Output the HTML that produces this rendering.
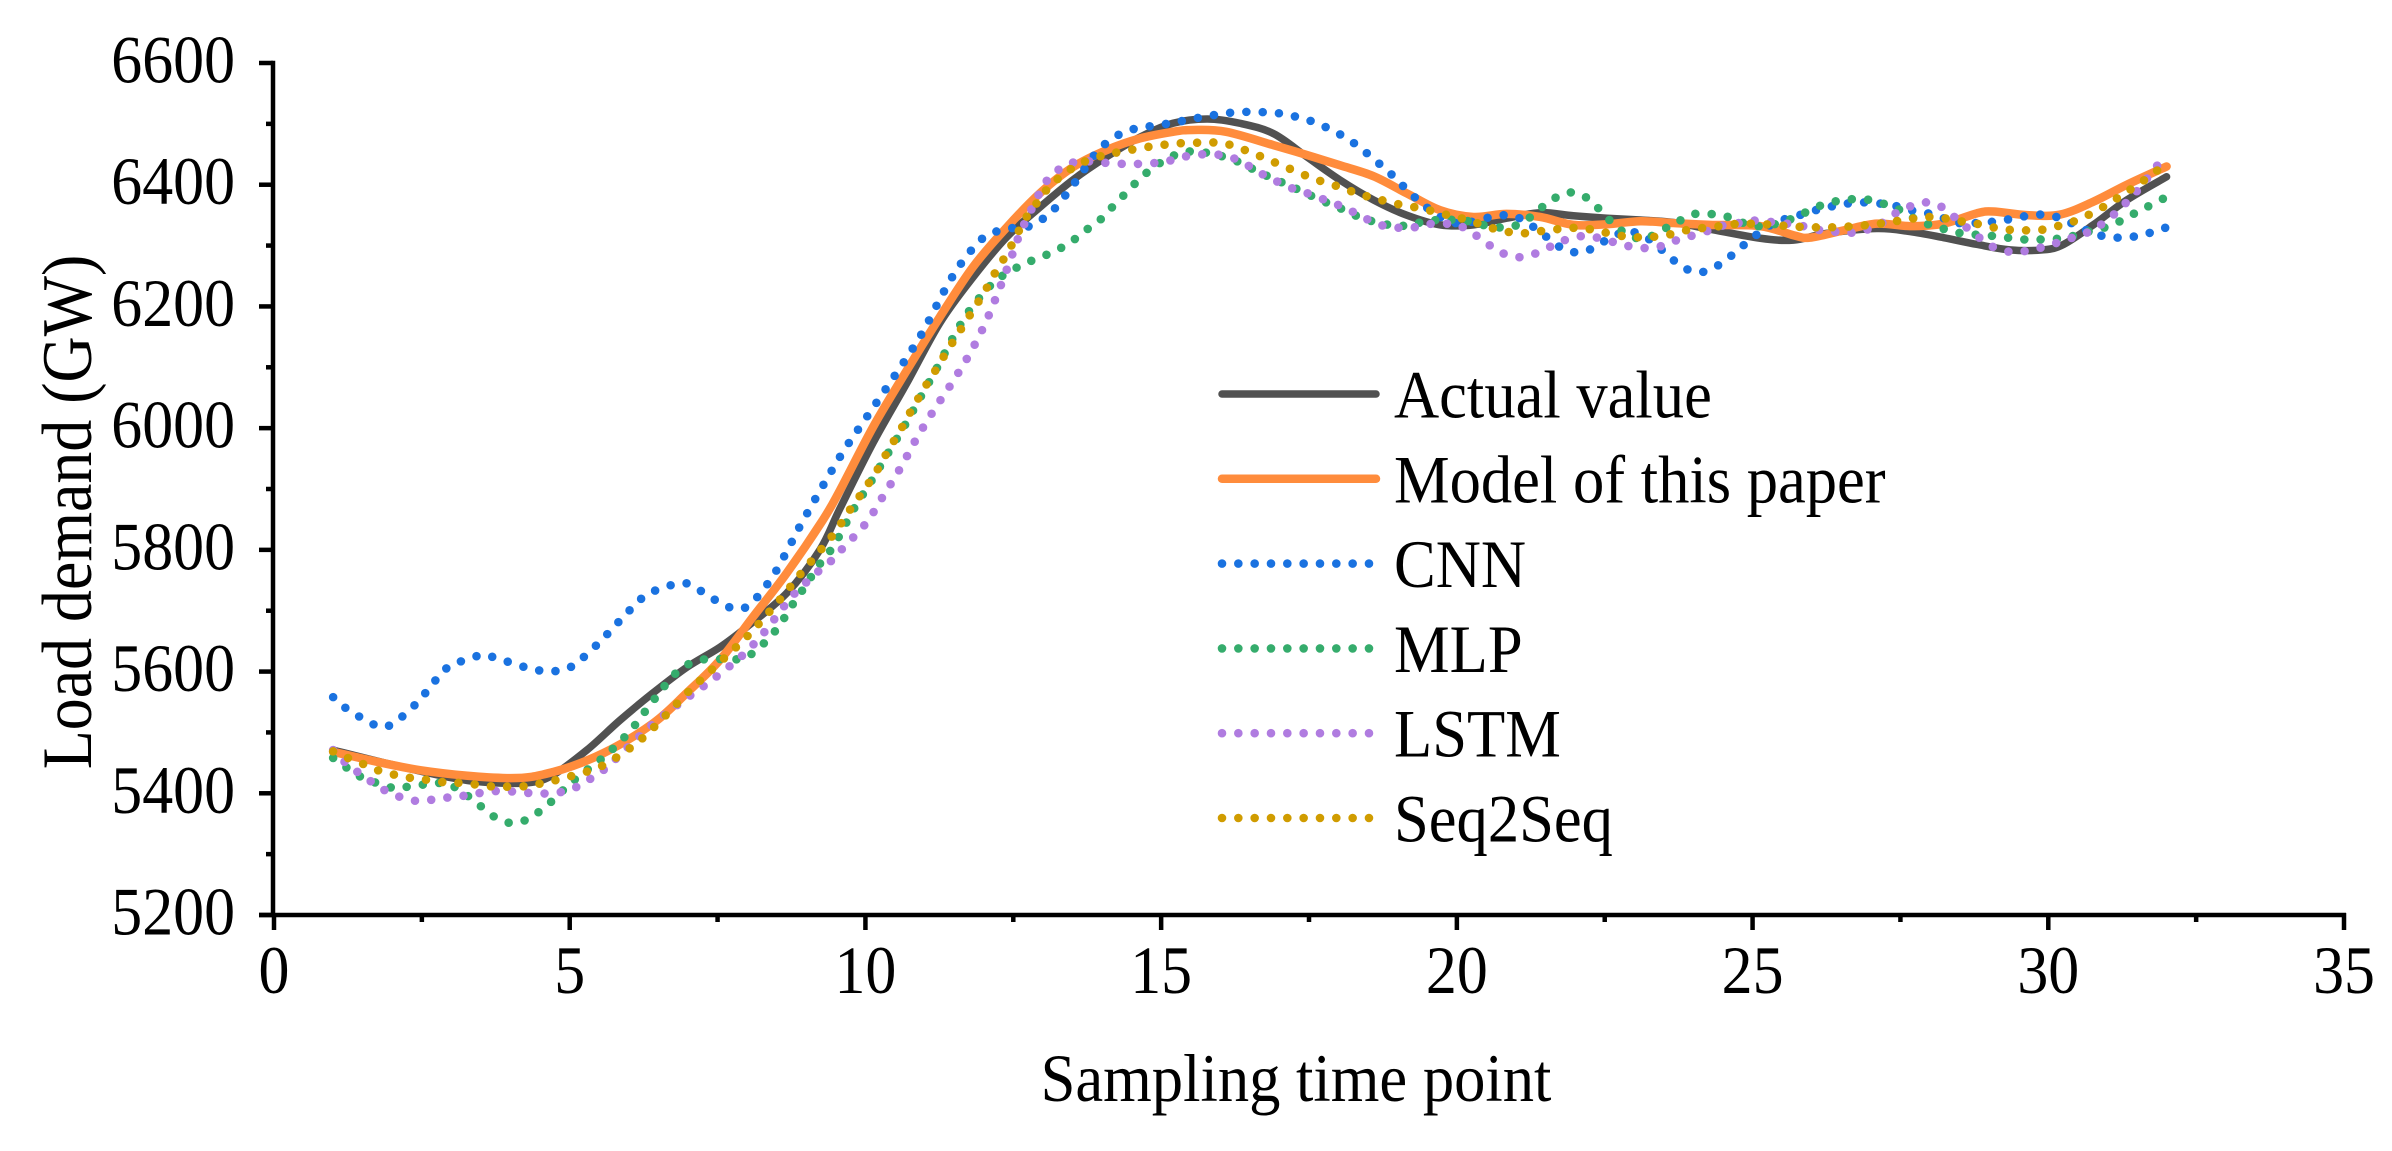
<!DOCTYPE html>
<html><head><meta charset="utf-8"><style>
html,body{margin:0;padding:0;background:#fff;}
svg{display:block;}
text{font-family:"Liberation Serif","Times New Roman",serif;fill:#000;}
</style></head><body>
<svg id="s" width="2392" height="1151" viewBox="0 0 2392 1151" xmlns="http://www.w3.org/2000/svg">
<rect width="2392" height="1151" fill="#fff"/>
<g id="axes" stroke="#000" stroke-width="4.5" fill="none"></g>
<g id="labels" font-size="68"></g>
<g id="curves" fill="none"></g>
<g id="legend"></g>
<text font-size="68" text-anchor="middle" transform="translate(1296,1101) scale(0.92,1)">Sampling time point</text>
<text font-size="71" text-anchor="middle" transform="translate(91,512) rotate(-90) scale(0.9,1)">Load demand (GW)</text>
</svg>
<script>
var NS="http://www.w3.org/2000/svg";
function X(x){return 274+x*59.143;}
function Y(v){return 915-(v-5200)*0.60857;}
function el(tag,attrs,parent,txt){var e=document.createElementNS(NS,tag);for(var k in attrs)e.setAttribute(k,attrs[k]);if(txt!==undefined)e.textContent=txt;parent.appendChild(e);return e;}
var axes=document.getElementById('axes'),labels=document.getElementById('labels'),curves=document.getElementById('curves'),legend=document.getElementById('legend');
el('line',{x1:273,y1:60.8,x2:273,y2:917},axes);
el('line',{x1:259,y1:915,x2:2346,y2:915},axes);
for(var v=5200;v<=6600;v+=100){var y=Y(v);var major=(v%200===0);
 el('line',{x1:major?259:266,y1:y,x2:273,y2:y},axes);
 if(major){el('text',{'text-anchor':'end',transform:'translate(235,'+(y+19.5)+') scale(0.91,1)'},labels,String(v));}
}
for(var x=0;x<=35;x+=2.5){var px=X(x);var major=(x%5===0);
 el('line',{x1:px,y1:913,x2:px,y2:major?930:922},axes);
 if(major){el('text',{'text-anchor':'middle',transform:'translate('+px+',993) scale(0.91,1)'},labels,String(x));}
}
function pathD(pts){var P=pts.map(function(p){return [X(p[0]),Y(p[1])];});var d='M'+P[0][0].toFixed(2)+','+P[0][1].toFixed(2);
 for(var i=0;i<P.length-1;i++){var p0=P[i>0?i-1:i],p1=P[i],p2=P[i+1],p3=P[i+2<P.length?i+2:i+1];
  var c1x=p1[0]+(p2[0]-p0[0])/6,c1y=p1[1]+(p2[1]-p0[1])/6,c2x=p2[0]-(p3[0]-p1[0])/6,c2y=p2[1]-(p3[1]-p1[1])/6;
  d+=' C'+c1x.toFixed(2)+','+c1y.toFixed(2)+' '+c2x.toFixed(2)+','+c2y.toFixed(2)+' '+p2[0].toFixed(2)+','+p2[1].toFixed(2);}
 return d;}
var actual=[[1,5471],[2,5447],[3.03,5425],[3.6,5418],[4.28,5417],[4.7,5429],[5.29,5471],[5.85,5520],[6.41,5565],[6.98,5607],[7.54,5640],[7.99,5673],[8.67,5729],[9.23,5800],[9.57,5868],[10.13,5976],[10.7,6074],[11.26,6173],[11.82,6248],[12.39,6314],[12.95,6363],[13.51,6408],[14.08,6446],[14.64,6478],[15.2,6501],[15.78,6508],[16.33,6501],[16.9,6484],[17.46,6446],[18.02,6408],[18.59,6375],[19.15,6350],[19.72,6334],[20.28,6334],[20.84,6345],[21.41,6354],[21.97,6349],[22.54,6345],[23.1,6342],[23.66,6338],[24.28,6327],[25.13,6312],[25.69,6309],[26.25,6320],[27.1,6328],[27.66,6323],[28.23,6313],[28.79,6302],[29.35,6293],[29.92,6293],[30.26,6302],[30.76,6334],[31.33,6375],[32,6413]];
var model=[[1,5468],[2.47,5438],[3.94,5425],[4.72,5435],[5.57,5466],[6.41,5515],[6.98,5565],[7.54,5619],[8.1,5690],[8.67,5762],[9.28,5849],[9.57,5898],[10.13,6002],[10.7,6095],[11.26,6183],[11.82,6265],[12.39,6330],[12.95,6386],[13.51,6429],[14.08,6457],[14.64,6476],[15.2,6487],[15.54,6490],[16.1,6487],[16.9,6465],[17.46,6449],[18.02,6432],[18.59,6414],[19.15,6386],[19.72,6358],[20.28,6347],[20.84,6352],[21.41,6347],[21.97,6334],[22.54,6335],[23.1,6340],[23.66,6337],[24.28,6334],[25.13,6332],[25.69,6317],[25.97,6313],[26.54,6325],[27.1,6336],[27.66,6332],[28.23,6336],[28.79,6353],[29.07,6356],[29.64,6350],[30.2,6351],[30.76,6372],[31.33,6400],[32,6430]];
var cnn=[[1,5558],[1.23,5539],[1.74,5511],[2.0,5514],[2.41,5548],[2.76,5589],[2.98,5609],[3.5,5627],[3.76,5622],[4.29,5606],[4.57,5601],[4.84,5602],[5.09,5612],[5.5,5648],[5.89,5688],[6.3,5726],[6.85,5745],[7.1,5739],[7.58,5711],[7.85,5703],[8.08,5713],[8.43,5756],[8.71,5805],[8.95,5849],[9.57,5953],[10.02,6018],[10.48,6084],[10.94,6153],[11.33,6225],[11.62,6271],[11.97,6311],[12.24,6324],[12.5,6329],[12.78,6332],[13.0,6344],[13.22,6363],[13.56,6406],[13.88,6450],[14.08,6469],[14.34,6485],[14.61,6493],[15.15,6501],[15.69,6511],[16.25,6519],[16.8,6519],[17.08,6516],[17.35,6510],[17.61,6502],[17.86,6491],[18.11,6478],[18.35,6462],[18.56,6445],[18.78,6427],[18.98,6409],[19.18,6389],[19.39,6371],[19.61,6354],[19.89,6339],[20.14,6337],[20.41,6343],[20.68,6349],[20.96,6349],[21.19,6337],[21.41,6323],[21.63,6305],[21.88,6291],[22.15,6290],[22.39,6301],[22.63,6315],[22.9,6323],[23.14,6317],[23.35,6303],[23.58,6283],[23.83,6264],[24.1,6256],[24.35,6264],[24.57,6278],[24.79,6296],[25.03,6315],[25.27,6332],[25.53,6343],[25.79,6350],[26.06,6358],[26.32,6364],[26.59,6369],[26.87,6371],[27.16,6369],[27.42,6365],[27.68,6358],[27.96,6353],[28.23,6345],[28.5,6337],[28.77,6337],[29.05,6339],[29.32,6343],[29.59,6348],[29.87,6351],[30.14,6347],[30.39,6337],[30.65,6325],[30.91,6316],[31.19,6313],[31.46,6315],[31.72,6321],[32,6330]];
var mlp=[[1,5458],[1.23,5442],[1.47,5427],[2.0,5409],[2.28,5411],[2.81,5417],[3.08,5409],[3.3,5394],[3.52,5377],[3.75,5360],[4.02,5351],[4.28,5357],[4.5,5371],[4.72,5389],[4.93,5409],[5.14,5427],[5.37,5444],[5.58,5460],[5.78,5478],[5.98,5498],[6.16,5519],[6.33,5542],[6.5,5563],[6.66,5583],[6.86,5603],[7.12,5617],[7.4,5621],[7.68,5620],[7.95,5622],[8.15,5635],[8.35,5653],[8.54,5675],[8.69,5698],[8.84,5721],[9.01,5744],[9.15,5767],[9.32,5788],[9.49,5811],[9.79,5865],[10.08,5910],[10.37,5957],[10.65,6002],[10.92,6049],[11.21,6099],[11.46,6145],[11.75,6192],[12.09,6232],[12.31,6250],[12.58,6265],[12.83,6276],[13.09,6286],[13.34,6298],[13.56,6312],[13.78,6329],[14.0,6345],[14.19,6365],[14.39,6385],[14.59,6405],[14.81,6424],[15.07,6441],[15.33,6452],[15.6,6455],[15.88,6450],[16.13,6444],[16.39,6434],[16.64,6421],[16.9,6410],[17.15,6399],[17.41,6388],[17.66,6376],[17.92,6366],[18.17,6355],[18.42,6344],[18.71,6337],[18.98,6332],[19.25,6335],[19.52,6341],[19.8,6342],[20.09,6342],[20.35,6336],[20.6,6331],[20.88,6330],[21.13,6339],[21.34,6355],[21.56,6372],[21.83,6386],[22.08,6385],[22.31,6369],[22.51,6349],[22.71,6330],[22.97,6314],[23.22,6313],[23.46,6325],[23.7,6337],[23.97,6351],[24.25,6352],[24.52,6349],[24.79,6339],[25.05,6332],[25.31,6334],[25.58,6341],[25.84,6352],[26.1,6364],[26.37,6372],[26.64,6376],[26.91,6376],[27.17,6370],[27.44,6361],[27.68,6347],[27.94,6336],[28.21,6328],[28.48,6321],[28.76,6318],[29.04,6316],[29.31,6313],[29.59,6310],[29.86,6310],[30.14,6311],[30.39,6315],[30.68,6323],[30.93,6329],[31.19,6339],[31.44,6352],[31.68,6364],[32,6380]];
var lstm=[[1,5471],[1.2,5451],[1.44,5433],[1.68,5417],[1.93,5402],[2.2,5392],[2.47,5387],[2.76,5391],[3.03,5394],[3.3,5397],[3.57,5402],[3.85,5404],[4.13,5402],[4.4,5400],[4.67,5400],[4.94,5404],[5.19,5414],[5.41,5428],[5.63,5443],[6.05,5482],[6.47,5519],[6.93,5553],[7.39,5585],[7.83,5619],[8.05,5639],[8.25,5660],[8.42,5681],[8.59,5703],[8.76,5724],[8.95,5742],[9.17,5762],[9.4,5780],[9.62,5803],[10.01,5844],[10.31,5890],[10.6,5936],[10.87,5984],[11.16,6030],[11.46,6074],[11.75,6120],[12.01,6169],[12.23,6220],[12.43,6271],[12.61,6319],[12.85,6368],[12.97,6391],[13.12,6413],[13.37,6431],[13.64,6439],[13.92,6437],[14.47,6434],[15.02,6437],[15.29,6444],[15.57,6449],[15.85,6450],[16.11,6447],[16.38,6437],[16.62,6422],[16.87,6410],[17.13,6397],[17.39,6389],[17.66,6379],[17.91,6370],[18.15,6360],[18.41,6347],[18.67,6335],[18.94,6330],[19.22,6329],[19.49,6335],[19.77,6336],[20.01,6334],[20.26,6321],[20.49,6305],[20.72,6290],[21.0,6281],[21.27,6285],[21.53,6296],[21.77,6307],[22.06,6315],[22.32,6314],[22.6,6307],[22.86,6300],[23.14,6296],[23.41,6298],[23.66,6307],[23.93,6315],[24.21,6323],[24.45,6332],[24.76,6337],[25.01,6341],[25.3,6339],[25.58,6336],[25.85,6332],[26.11,6326],[26.38,6323],[26.66,6321],[26.93,6326],[27.17,6336],[27.4,6352],[27.65,6364],[27.92,6371],[28.17,6365],[28.4,6348],[28.59,6332],[28.82,6314],[29.06,6298],[29.34,6290],[29.61,6291],[29.89,6297],[30.16,6305],[30.41,6313],[30.67,6322],[30.9,6335],[31.12,6352],[31.33,6372],[31.52,6392],[31.7,6414],[31.88,6436],[32,6448]];
var seq=[[1,5469],[1.25,5458],[1.51,5448],[1.78,5437],[2.06,5430],[2.33,5425],[2.6,5422],[2.89,5418],[3.16,5417],[3.45,5414],[3.73,5411],[3.99,5411],[4.28,5412],[4.55,5417],[4.82,5423],[5.09,5430],[5.36,5438],[5.61,5448],[5.85,5463],[6.07,5478],[6.27,5494],[6.48,5514],[6.68,5534],[6.87,5553],[7.07,5573],[7.27,5591],[7.49,5611],[7.7,5630],[7.91,5649],[8.1,5668],[8.3,5690],[8.49,5711],[8.67,5732],[8.84,5753],[9.03,5775],[9.21,5796],[9.4,5818],[9.6,5845],[9.76,5869],[9.93,5892],[10.08,5913],[10.23,5936],[10.36,5959],[10.5,5982],[10.64,6005],[10.78,6030],[10.92,6053],[11.06,6076],[11.21,6099],[11.35,6122],[11.5,6145],[11.65,6168],[11.8,6191],[11.95,6214],[12.09,6237],[12.22,6260],[12.37,6283],[12.5,6306],[12.63,6331],[12.77,6354],[12.94,6375],[13.1,6396],[13.31,6414],[13.56,6431],[13.81,6442],[14.1,6450],[14.36,6455],[14.64,6460],[14.91,6464],[15.18,6467],[15.46,6469],[15.74,6469],[16.01,6469],[16.28,6462],[16.54,6452],[16.8,6442],[17.05,6431],[17.31,6421],[17.57,6410],[17.84,6402],[18.11,6393],[18.37,6384],[18.64,6377],[18.91,6370],[19.18,6365],[19.45,6360],[19.72,6353],[19.99,6347],[20.25,6340],[20.52,6331],[20.79,6324],[21.07,6320],[21.34,6323],[21.62,6326],[21.89,6329],[22.17,6328],[22.44,6323],[22.71,6317],[22.98,6314],[23.26,6314],[23.54,6317],[23.81,6324],[24.08,6328],[24.37,6331],[24.65,6335],[24.92,6336],[25.2,6335],[25.48,6333],[25.76,6331],[26.03,6330],[26.3,6330],[26.58,6331],[26.86,6333],[27.14,6336],[27.41,6340],[27.68,6344],[27.95,6347],[28.23,6345],[28.51,6340],[28.78,6336],[29.06,6330],[29.33,6326],[29.61,6325],[29.89,6326],[30.16,6332],[30.41,6339],[30.67,6350],[30.92,6363],[31.15,6377],[31.37,6391],[31.6,6406],[31.82,6422],[32,6432]];
var series=[
 {d:actual,c:'#515151',w:7.5,dot:false,name:'Actual value'},
 {d:model,c:'#FF8C3C',w:8.5,dot:false,name:'Model of this paper'},
 {d:cnn,c:'#1A72E0',w:8.6,dot:true,name:'CNN'},
 {d:mlp,c:'#35AC6C',w:8.6,dot:true,name:'MLP'},
 {d:lstm,c:'#B07CE0',w:8.6,dot:true,name:'LSTM'},
 {d:seq,c:'#D09C00',w:8.6,dot:true,name:'Seq2Seq'}];
series.forEach(function(s,i){
 var a={d:pathD(s.d),stroke:s.c,'stroke-width':s.w,'stroke-linecap':'round','stroke-linejoin':'round',fill:'none'};
 if(s.dot)a['stroke-dasharray']='0 16.3';
 el('path',a,curves);
 var ly=394+i*84.8;
 var la={stroke:s.c,'stroke-width':s.w,'stroke-linecap':'round',fill:'none'};
 if(s.dot){la.d='M1222,'+ly+' L1369.2,'+ly;la['stroke-dasharray']='0 16.33';}
 else{la.d='M1222,'+ly+' L1376,'+ly;}
 el('path',la,legend);
 el('text',{'font-size':68,transform:'translate(1394,'+(ly+23.5)+') scale(0.92,1)'},legend,s.name);
});
</script>
</body></html>
